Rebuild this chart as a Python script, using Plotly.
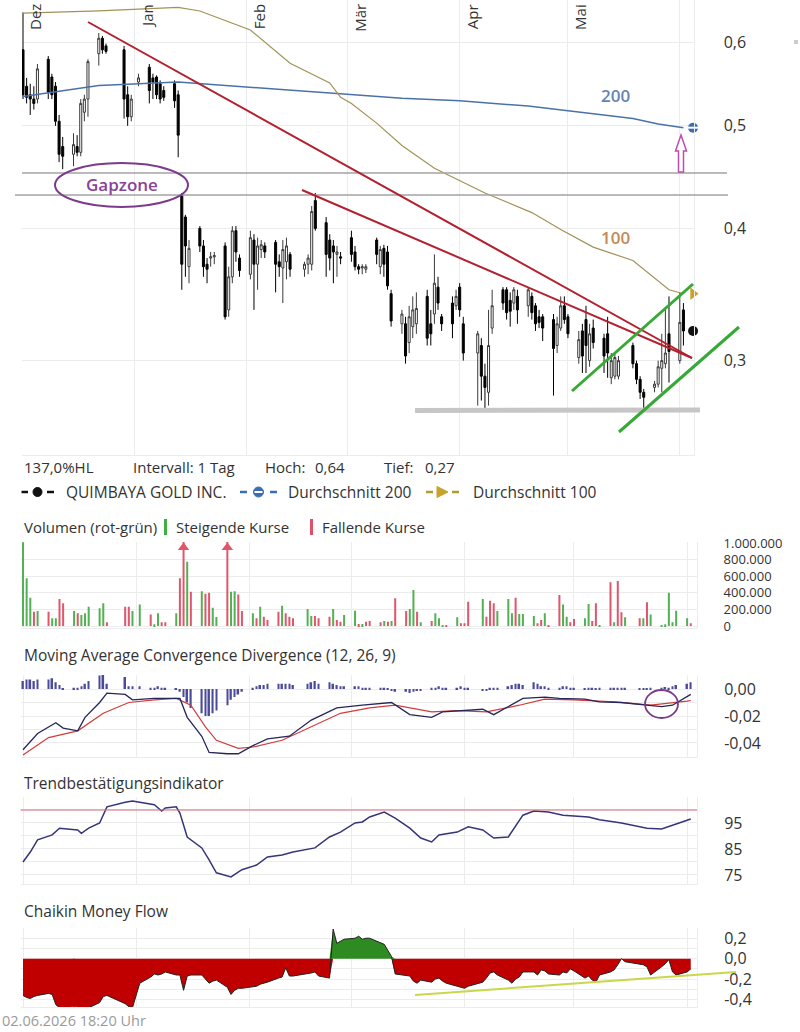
import pandas as pd
import plotly.graph_objects as go

W, H = 800, 1032
FONT = "Open Sans"
GRID = "#ececec"


def X(p):
    return p / W


def Y(p):
    return 1 - p / H


# ---------------- data ----------------
HOLIDAYS = ["2025-12-25", "2025-12-26", "2026-01-01", "2026-02-16", "2026-04-03", "2026-05-18"]
DAYS = pd.bdate_range("2025-12-01", "2026-06-02")
DAYS = DAYS[~DAYS.isin(pd.to_datetime(HOLIDAYS))]

OPEN = [.590, .545, .535, .530, .530, .578, .556, .545, .505, .478, .470, .478, .472, .515, .530, .585, .605, .595, .590, .535, .510,
        .550, .568, .555, .556, .548, .540, .548, .535, .430, .410, .368, .400, .385, .370, .375, .376, .385, .335, .360, .398, .375,
        .362, .390, .370, .382, .385, .388, .372, .367, .372, .378, .366, .370, .370, .425, .405, .390, .385, .378, .376,
        .392, .380, .368, .367, .366, .390, .368, .383, .380, .347, .325, .325, .312, .323, .325, .345, .325, .332, .352, .330, .340, .338,
        .352, .325, .305, .310, .290, .280, .322, .350, .350, .342, .340, .345, .338, .345, .338, .330, .330, .328, .310, .322, .338,
        .330, .302, .320, .328, .300, .322, .315, .318, .289, .290, .290, .310, .298, .288, .280, .283, .285, .295, .298, .318,
        .300, .335]
HIGH = [.640, .555, .548, .545, .572, .582, .560, .550, .512, .488, .492, .490, .530, .535, .578, .612, .608, .598, .595, .545, .535,
        .560, .572, .560, .558, .552, .545, .552, .540, .432, .412, .390, .402, .390, .375, .380, .380, .388, .368, .402, .402, .378,
        .398, .395, .392, .390, .388, .390, .378, .390, .392, .380, .372, .378, .420, .432, .410, .395, .390, .385, .380,
        .398, .385, .370, .370, .370, .392, .385, .386, .385, .350, .335, .330, .338, .345, .348, .350, .335, .378, .360, .332, .345, .350,
        .355, .330, .320, .315, .298, .335, .350, .352, .352, .348, .352, .350, .352, .348, .340, .335, .332, .332, .330, .345, .345,
        .332, .320, .325, .338, .325, .328, .318, .330, .305, .305, .303, .312, .300, .290, .282, .287, .300, .318, .335, .345,
        .348, .340]
LOW = [.530, .525, .512, .518, .525, .530, .530, .500, .462, .455, .458, .468, .468, .505, .510, .570, .585, .585, .508, .500, .505,
       .545, .525, .530, .530, .525, .528, .520, .467, .350, .360, .355, .380, .360, .355, .368, .370, .328, .330, .355, .372, .360,
       .358, .335, .350, .375, .375, .348, .360, .340, .358, .360, .360, .362, .365, .398, .360, .365, .355, .360, .370,
       .372, .365, .362, .362, .363, .370, .362, .360, .350, .323, .318, .298, .305, .315, .318, .310, .310, .325, .335, .320, .315, .335,
       .330, .300, .272, .275, .270, .272, .318, .335, .328, .323, .335, .325, .330, .328, .320, .322, .313, .278, .305, .320, .325,
       .315, .298, .292, .292, .296, .308, .292, .289, .285, .288, .288, .295, .285, .276, .270, .280, .283, .280, .295, .286,
       .298, .310]
CLOSE = [.535, .532, .530, .525, .566, .538, .535, .505, .470, .468, .480, .472, .525, .530, .575, .605, .590, .588, .530, .510, .530,
         .555, .540, .550, .535, .530, .532, .528, .490, .370, .385, .383, .385, .368, .366, .376, .377, .330, .360, .398, .380, .365,
         .392, .370, .385, .386, .380, .370, .368, .382, .385, .366, .370, .375, .415, .400, .378, .375, .380, .380, .375,
         .378, .368, .366, .368, .368, .378, .382, .370, .353, .327, .332, .303, .330, .335, .336, .315, .318, .355, .340, .325, .325, .345,
         .335, .305, .318, .290, .283, .310, .338, .340, .333, .334, .350, .335, .350, .333, .325, .326, .322, .308, .325, .338, .328,
         .318, .314, .303, .310, .318, .312, .303, .305, .300, .302, .300, .298, .288, .280, .277, .285, .296, .300, .305, .306,
         .326, .320]

# volume in thousands and direction (g = steigend, r = fallend)
VOLUME_K = [1010, 575, 340, 173, 180, 173, 92, 92, 325, 273, 180, 153, 133, 153, 233, 213, 273, 44, 233, 233, 180,
            260, 140, 20, 153, 44, 44, 153, 575, 1500, 775, 414, 420, 390, 400, 220, 110, 1400, 414, 420, 380, 180,
            153, 92, 233, 112, 72, 173, 245, 153, 112, 92, 205, 120, 120, 92, 112, 205, 72, 52, 133,
            185, 24, 24, 52, 60, 44, 60, 52, 60, 333, 180, 205, 434, 173, 44, 60, 153, 92, 12, 12, 104, 32,
            32, 293, 325, 112, 305, 273, 180, 325, 153, 341, 145, 145, 120, 32, 72, 153, 10, 373, 260, 112, 44,
            84, 92, 265, 60, 273, 12, 526, 44, 542, 165, 104, 92, 92, 285, 140, 5, 20, 400, 44, 185,
            92, 32]
VOLUME_DIR = list("gggrgrggrrgrgggggrrrg"      # Dez
                  "grggrrgrrgrgrrggrggrr"      # Jan
                  "grgrrrgrrrggrrrgrrg"        # Feb
                  "grgrrrgrgrrggrgrgggrgr"     # Mär
                  "rrgrrrgggrgggrrgrrggr"      # Apr
                  "rggrrgrgrrgrgrgggggg"       # Mai
                  "gr")                        # Jun

MACD_HIST = [.006, .007, .007, .006, .007, .007, .008, .005, .003, .0005, .001, .001, .002, .004, .006, .010, .012, .004, .009, .002, .002,
             .002, .001, .001, .002, .001, .001, .0005, -.002, -.006, -.010, -.014, -.018, -.020, -.020, -.018, -.016, -.012, -.008, -.006, -.004, -.002,
             .001, .002, .003, .003, .004, .004, .004, .004, .004, .003, .004, .005, .006, .004, .005, .004, .003, .002, .002,
             .002, .002, .001, .001, .001, .001, .001, .0005, -.001, -.002, -.002, -.003, -.002, -.001, -.001, .001, .001, .002, .001, .001, .001, .002,
             .001, .001, -.001, -.001, .001, .001, .001, .002, .003, .004, .004, .003, .005, .004, .002, .002, .001, .001, .002, .002, .001,
             .001, .0005, .001, .001, .0005, .001, .001, .001, .001, .001, .001, .0005, .0005, .0005, .001, .001, .0015, .001, .002, .003,
             .004, .005]

CMF = [-.36, -.38, -.39, -.37, -.36, -.34, -.35, -.45, -.48, None, -.47, None, None, None, -.48, -.43, -.37, -.36, -.44, -.47, -.48,
       -.24, -.18, -.15, -.16, -.15, -.13, -.16, -.16, -.31, -.17, -.16, -.16, -.20, -.24, -.22, -.21, -.28, -.35, -.31, -.29, -.29,
       -.28, -.27, -.25, -.24, -.23, -.19, -.18, -.09, -.17, -.17, -.15, -.14, -.13, -.17, -.19, .29, .15, .17, .19,
       .20, .22, .19, .20, .20, .16, .14, .08, .02, -.15, -.16, -.17, -.22, -.24, -.21, -.23, -.20, -.19, -.22, -.24, -.27, -.28,
       -.29, -.27, -.23, -.19, -.14, -.13, -.16, -.21, -.24, -.20, -.18, -.13, -.13, -.16, -.11, -.12, -.15, -.16, -.13, -.14, -.10,
       -.12, -.19, -.17, -.21, -.23, -.16, -.13, -.11, -.06, 0.0, -.03, -.05, -.06, -.08, -.16, -.08, -.05, -.01, -.13, -.16,
       -.13, -.10]

MA200_DATES = ["2025-12-01", "2025-12-22", "2026-01-13", "2026-01-28", "2026-02-24", "2026-03-16", "2026-04-01",
               "2026-04-20", "2026-04-30", "2026-05-11", "2026-05-19", "2026-05-26", "2026-06-02"]
MA200 = [.533, .546, .550, .545, .537, .531, .528, .522, .517, .512, .508, .502, .498]

MA100_DATES = ["2025-12-01", "2025-12-22", "2026-01-13", "2026-01-19", "2026-02-02", "2026-02-06", "2026-02-13",
               "2026-02-24", "2026-02-27", "2026-03-02", "2026-03-09", "2026-03-16", "2026-03-25", "2026-04-08",
               "2026-04-21", "2026-04-29", "2026-05-08", "2026-05-19", "2026-05-26", "2026-05-29", "2026-06-02"]
MA100 = [.639, .642, .647, .642, .616, .600, .573, .549, .532, .525, .503, .479, .456, .432, .414, .399, .384, .373,
         .357, .350, .347]

MACD_DATES = ["2025-12-01", "2025-12-05", "2025-12-10", "2025-12-12", "2025-12-16", "2025-12-18", "2025-12-22",
              "2025-12-24", "2025-12-29", "2025-12-31", "2026-01-06", "2026-01-09", "2026-01-13", "2026-01-15",
              "2026-01-19", "2026-01-21", "2026-01-26", "2026-01-29", "2026-02-02", "2026-02-06", "2026-02-12",
              "2026-02-18", "2026-02-25", "2026-03-04", "2026-03-12", "2026-03-17", "2026-03-23", "2026-03-26",
              "2026-04-01", "2026-04-06", "2026-04-09", "2026-04-13", "2026-04-17", "2026-04-23", "2026-04-27",
              "2026-05-04", "2026-05-08", "2026-05-14", "2026-05-21", "2026-05-25", "2026-05-28", "2026-06-02"]
MACD = [-.045, -.033, -.025, -.029, -.031, -.021, -.010, -.003, -.004, -.008, -.007, -.007, -.007, -.021,
        -.035, -.047, -.048, -.048, -.042, -.037, -.035, -.023, -.014, -.012, -.010, -.019, -.021, -.017,
        -.016, -.015, -.019, -.013, -.007, -.006, -.007, -.0075, -.0095, -.010, -.012, -.013, -.012, -.004]

SIGNAL_DATES = ["2025-12-01", "2025-12-08", "2025-12-16", "2025-12-23", "2025-12-30", "2026-01-06", "2026-01-12",
                "2026-01-16", "2026-01-20", "2026-01-23", "2026-01-29", "2026-02-02", "2026-02-10", "2026-02-18",
                "2026-02-26", "2026-03-06", "2026-03-13", "2026-03-23", "2026-03-30", "2026-04-07", "2026-04-16",
                "2026-04-23", "2026-05-01", "2026-05-12", "2026-05-22", "2026-06-01", "2026-06-02"]
SIGNAL = [-.049, -.036, -.031, -.018, -.010, -.008, -.007, -.012, -.028, -.038, -.044, -.043, -.038, -.028,
          -.018, -.014, -.012, -.017, -.016, -.017, -.012, -.0075, -.008, -.0095, -.012, -.009, -.0085]

TREND_DATES = ["2025-12-01", "2025-12-03", "2025-12-05", "2025-12-09", "2025-12-11", "2025-12-16", "2025-12-17",
               "2025-12-19", "2025-12-22", "2025-12-24", "2025-12-29", "2025-12-31", "2026-01-02", "2026-01-06",
               "2026-01-08", "2026-01-09", "2026-01-12", "2026-01-13", "2026-01-15", "2026-01-19", "2026-01-21",
               "2026-01-23", "2026-01-27", "2026-01-30", "2026-02-03", "2026-02-06", "2026-02-10", "2026-02-13",
               "2026-02-19", "2026-02-23", "2026-02-26", "2026-03-02", "2026-03-04", "2026-03-06", "2026-03-10",
               "2026-03-13", "2026-03-17", "2026-03-20", "2026-03-23", "2026-03-25", "2026-03-30", "2026-04-02",
               "2026-04-06", "2026-04-09", "2026-04-13", "2026-04-17", "2026-04-20", "2026-04-24", "2026-04-28",
               "2026-05-05", "2026-05-08", "2026-05-14", "2026-05-21", "2026-05-25", "2026-05-29", "2026-06-02"]
TREND = [80, 83.8, 88.5, 90.4, 93, 92.3, 91, 93, 95, 101.2, 103, 103.5, 103, 102, 99.6, 100.8, 101.2, 98.8,
         89.6, 85.4, 80.8, 75.8, 74.2, 77, 78.8, 81.9, 82.7, 83.8, 85.4, 89.6, 91.5, 95, 95.4, 97.3, 99.2,
         96.9, 93, 89.2, 87.7, 90.4, 91.5, 93.5, 92.3, 89.2, 89.6, 98, 99.6, 99.2, 98, 97.3, 96.2, 95, 93,
         92.7, 94.6, 96.5]
TREND_REF = 100

MONTH_TICKS = ["2025-12-01", "2026-01-01", "2026-02-01", "2026-03-01", "2026-04-01", "2026-05-01"]
MONTH_LABELS = ["Dez", "Jan", "Feb", "Mär", "Apr", "Mai"]

PRICE_TICKS = [0.3, 0.4, 0.5, 0.6]
VOL_TICKS = [0, 200000, 400000, 600000, 800000, 1000000]
MACD_TICKS = [0.0, -0.02, -0.04]
TREND_TICKS = [75, 85, 95]
CMF_TICKS = [0.2, 0.0, -0.2, -0.4]
VOL_TOP = 1012000


def de(v, nd):
    return f"{v:.{nd}f}".replace(".", ",")


def de_int(v):
    return f"{int(v):,}".replace(",", ".")


# ---------------- figure ----------------
fig = go.Figure()
DAY_MS = 86400000

# main price chart
fig.add_trace(go.Candlestick(
    x=DAYS, open=OPEN, high=HIGH, low=LOW, close=CLOSE, whiskerwidth=0,
    increasing=dict(line=dict(color="#3a3a3a", width=1), fillcolor="#ffffff"),
    decreasing=dict(line=dict(color="#000000", width=1), fillcolor="#000000"),
    xaxis="x", yaxis="y", hoverinfo="skip", showlegend=False))
fig.add_trace(go.Scatter(x=pd.to_datetime(MA200_DATES), y=MA200, mode="lines",
                         line=dict(color="#4a72a8", width=1.5), xaxis="x", yaxis="y", hoverinfo="skip"))
fig.add_trace(go.Scatter(x=pd.to_datetime(MA100_DATES), y=MA100, mode="lines",
                         line=dict(color="#a39257", width=1.2), xaxis="x", yaxis="y", hoverinfo="skip"))

left_mark = DAYS[0] - pd.Timedelta(hours=66)
right_mark = DAYS[-1] + pd.Timedelta(hours=64)
fig.add_trace(go.Scatter(x=[left_mark, right_mark], y=[CLOSE[0], CLOSE[-1]], mode="markers",
                         marker=dict(color="#111", size=10), cliponaxis=False, xaxis="x", yaxis="y", hoverinfo="skip"))
fig.add_trace(go.Scatter(x=[left_mark, right_mark], y=[MA200[0], MA200[-1]], mode="markers",
                         marker=dict(color="#3b6db3", size=10), cliponaxis=False, xaxis="x", yaxis="y", hoverinfo="skip"))
fig.add_trace(go.Scatter(x=[left_mark, right_mark], y=[MA200[0], MA200[-1]], mode="markers",
                         marker=dict(symbol="line-ew", size=9, line=dict(color="white", width=2)),
                         cliponaxis=False, xaxis="x", yaxis="y", hoverinfo="skip"))
fig.add_trace(go.Scatter(x=[left_mark, right_mark], y=[MA100[0], MA100[-1]], mode="markers",
                         marker=dict(symbol="triangle-right", color="#c9a227", size=11), cliponaxis=False,
                         xaxis="x", yaxis="y", hoverinfo="skip"))

# volume
vol = [v * 1000 for v in VOLUME_K]
vcol = ["#52b152" if d == "g" else "#e0566c" for d in VOLUME_DIR]
fig.add_trace(go.Bar(x=DAYS, y=vol, marker=dict(color=vcol, line=dict(width=0)), width=0.55 * DAY_MS,
                     xaxis="x2", yaxis="y2", hoverinfo="skip"))
clip_x = [d for d, v in zip(DAYS, vol) if v > VOL_TOP]
clip_c = [c for c, v in zip(vcol, vol) if v > VOL_TOP]
fig.add_trace(go.Scatter(x=clip_x, y=[0.945e6] * len(clip_x), mode="markers",
                         marker=dict(symbol="triangle-up", size=10, color=clip_c), cliponaxis=False,
                         xaxis="x2", yaxis="y2", hoverinfo="skip"))

# MACD
fig.add_trace(go.Bar(x=DAYS, y=MACD_HIST, marker=dict(color="#4a4a9a", line=dict(width=0)), width=0.45 * DAY_MS,
                     xaxis="x3", yaxis="y3", hoverinfo="skip"))
fig.add_trace(go.Scatter(x=pd.to_datetime(SIGNAL_DATES), y=SIGNAL, mode="lines", line=dict(color="#d23c3c", width=1.2),
                         xaxis="x3", yaxis="y3", hoverinfo="skip"))
fig.add_trace(go.Scatter(x=pd.to_datetime(MACD_DATES), y=MACD, mode="lines", line=dict(color="#26265a", width=1.3),
                         xaxis="x3", yaxis="y3", hoverinfo="skip"))

# Trend
fig.add_trace(go.Scatter(x=pd.to_datetime(TREND_DATES), y=TREND, mode="lines", line=dict(color="#35357a", width=1.5),
                         xaxis="x4", yaxis="y4", hoverinfo="skip"))

# Chaikin
neg = [None if v is None else min(v, 0) for v in CMF]
pos = [None if v is None else max(v, 0) for v in CMF]
fig.add_trace(go.Scatter(x=DAYS, y=neg, mode="lines", fill="tozeroy", fillcolor="#c00000",
                         line=dict(width=0, color="#c00000"), xaxis="x5", yaxis="y5", hoverinfo="skip"))
fig.add_trace(go.Scatter(x=DAYS, y=pos, mode="lines", fill="tozeroy", fillcolor="#2e8b22",
                         line=dict(width=0, color="#2e8b22"), xaxis="x5", yaxis="y5", hoverinfo="skip"))
iso_x, iso_y = [], []
for i, v in enumerate(CMF):
    if v is None:
        continue
    prev_none = i == 0 or CMF[i - 1] is None
    next_none = i == len(CMF) - 1 or CMF[i + 1] is None
    if prev_none and next_none:
        iso_x += [DAYS[i], DAYS[i], None]
        iso_y += [0, v, None]
fig.add_trace(go.Scatter(x=iso_x, y=iso_y, mode="lines", line=dict(color="#c00000", width=2),
                         xaxis="x5", yaxis="y5", hoverinfo="skip"))
fig.add_trace(go.Scatter(x=DAYS, y=CMF, mode="lines", line=dict(color="#222", width=1),
                         xaxis="x5", yaxis="y5", hoverinfo="skip"))

# ---------------- axes ----------------
main_dom = [X(22), X(693.5)]
low_dom = [X(20.5), X(697)]
main_rng = ["2025-11-30 17:21", "2026-06-04 19:00"]
low_rng = ["2025-11-30 07:33", "2026-06-03 17:02"]


def xax(dom, rng, anchor):
    return dict(domain=dom, range=rng, type="date", anchor=anchor, showgrid=True, gridcolor=GRID, gridwidth=1,
                dtick="M1", tick0="2025-12-01", showticklabels=False, ticks="", zeroline=False,
                showline=True, linecolor=GRID, rangeslider=dict(visible=False), fixedrange=True,
                automargin=False)


def yax(dom, rng, anchor, tv, tt, size=16, standoff=23, minor=None, typ="linear"):
    d = dict(domain=dom, range=rng, type=typ, anchor=anchor, side="right", tickvals=tv, ticktext=tt,
             showgrid=True, gridcolor=GRID, ticks="", zeroline=False, showline=True, linecolor=GRID,
             tickfont=dict(size=size, color="#333", family=FONT), ticklabelstandoff=standoff, fixedrange=True,
             automargin=False)
    if minor is not None:
        d["minor"] = dict(tickvals=minor, showgrid=True, gridcolor=GRID, ticks="")
    return d


fig.update_layout(
    xaxis=xax(main_dom, main_rng, "y"),
    yaxis=yax([Y(455), 1], [-0.6121, -0.1821], "x", PRICE_TICKS, [de(v, 1) for v in PRICE_TICKS],
              size=16, standoff=26, typ="log"),
    xaxis2=xax(low_dom, low_rng, "y2"),
    yaxis2=yax([Y(628), Y(542)], [-24000, VOL_TOP], "x2", VOL_TICKS, [de_int(v) for v in VOL_TICKS], size=13),
    xaxis3=xax(low_dom, low_rng, "y3"),
    yaxis3=yax([Y(757), Y(675)], [-0.0504, 0.0104], "x3", MACD_TICKS, [de(v, 2) for v in MACD_TICKS],
               minor=[-0.05, -0.04, -0.03, -0.02, -0.01, 0.0, 0.01]),
    xaxis4=xax(low_dom, low_rng, "y4"),
    yaxis4=yax([Y(884), Y(797)], [71.5, 105], "x4", TREND_TICKS, [str(v) for v in TREND_TICKS],
               minor=[70, 75, 80, 85, 90, 95, 100, 105]),
    xaxis5=xax(low_dom, low_rng, "y5"),
    yaxis5=yax([Y(1007), Y(928)], [-0.473, 0.30], "x5", CMF_TICKS, [de(v, 1) for v in CMF_TICKS],
               minor=[-0.4, -0.3, -0.2, -0.1, 0.0, 0.1, 0.2]),
)

# ---------------- annotations & drawings ----------------
ann = []
shapes = []


def txt(x, y, s, size=15.5, color="#333", anchor="left", weight=None, **kw):
    f = dict(size=size, color=color, family=FONT)
    if weight:
        f["weight"] = weight
    ann.append(dict(x=X(x), y=Y(y), xref="paper", yref="paper", text=s, showarrow=False, xanchor=anchor,
                    yanchor="middle", font=f, **kw))


def line(x0, y0, x1, y1, color, width):
    shapes.append(dict(type="line", xref="paper", yref="paper", x0=X(x0), y0=Y(y0), x1=X(x1), y1=Y(y1),
                       line=dict(color=color, width=width)))


def path(points, line_color, fill, width=1.5):
    p = "M " + " L ".join(f"{X(a):.5f},{Y(b):.5f}" for a, b in points) + " Z"
    shapes.append(dict(type="path", xref="paper", yref="paper", path=p, fillcolor=fill,
                       line=dict(color=line_color, width=width)))


def ellipse(x0, y0, x1, y1, color, width=2, fill=None):
    shapes.append(dict(type="circle", xref="paper", yref="paper", x0=X(x0), x1=X(x1), y0=Y(y1), y1=Y(y0),
                       line=dict(color=color, width=width), fillcolor=fill or "rgba(0,0,0,0)"))


# month labels at top of price chart
for d, lab in zip(MONTH_TICKS, MONTH_LABELS):
    ann.append(dict(x=d, xref="x", y=Y(2), yref="paper", text=lab, textangle=-90, showarrow=False,
                    xanchor="center", yanchor="top", xshift=12, font=dict(size=15, color="#333", family=FONT)))

# hand-drawn analysis lines
line(22, 173, 727, 173, "#a3a3a3", 1.5)
line(15, 195, 728, 195, "#a3a3a3", 1.5)
line(415, 410.5, 700, 410, "#c6c6c6", 5)
line(88, 22, 692, 358, "#b3202e", 2)
line(302, 190, 692, 358, "#b3202e", 2)
line(572, 391, 693, 284, "#36a936", 3)
line(619, 432, 739, 327, "#36a936", 3)
ellipse(55, 163, 188, 207, "#7b3a8c", 2, "rgba(255,255,255,0)")
txt(121.5, 185, "Gapzone", size=17, color="#8a4299", anchor="center", weight=600)
txt(615, 96, "200", size=17, color="#6684b0", anchor="center", weight=600)
txt(615, 238, "100", size=17, color="#c48a55", anchor="center", weight=600)
path([(681, 135), (686.5, 151), (683.5, 151), (683.5, 172), (678.5, 172), (678.5, 151), (675.5, 151)],
     "#c04cae", "#ffffff", 1.5)
ellipse(645, 690, 678, 718, "#7b3a8c", 1.8)
line(415, 995, 736, 972, "#c8d84a", 2)
shapes.append(dict(type="rect", xref="paper", yref="paper", x0=X(794), x1=X(798), y0=Y(44), y1=Y(40),
                   fillcolor="#cccccc", line=dict(width=0)))

# trend reference line
shapes.append(dict(type="line", xref="x4 domain", yref="y4", x0=0, x1=1, y0=TREND_REF, y1=TREND_REF,
                   line=dict(color="#d36a7a", width=1.2)))

# info line
hi, lo = max(HIGH), min(LOW)
txt(21.5, 467, f"{de((hi / lo - 1) * 100, 1)}%HL", size=15)
txt(131, 467, "Intervall: 1 Tag", size=15)
txt(263, 467, "Hoch:", size=15)
txt(313, 467, de(hi, 2), size=15)
txt(382, 467, "Tief:", size=15)
txt(423, 467, de(lo, 2), size=15)

# legend row
line(21.5, 492, 28, 492, "#111", 2.5)
line(47, 492, 54, 492, "#111", 2.5)
ellipse(33, 487.5, 42, 496.5, "#111", 1, "#111")
txt(64, 492, "QUIMBAYA GOLD INC.")
line(240, 492, 247, 492, "#3b6db3", 2.5)
line(270, 492, 277, 492, "#3b6db3", 2.5)
ellipse(253.5, 487, 263.5, 497, "#3b6db3", 1, "#3b6db3")
line(254.5, 492, 262.5, 492, "#ffffff", 2)
txt(286, 492, "Durchschnitt 200")
line(426, 492, 433, 492, "#b39a2e", 2.5)
line(452, 492, 459, 492, "#b39a2e", 2.5)
path([(437, 486.5), (448, 492), (437, 497.5)], "#c9a227", "#c9a227", 1)
txt(471, 492, "Durchschnitt 100")

# volume title
txt(21.5, 527, "Volumen (rot-grün)", size=15)
shapes.append(dict(type="rect", xref="paper", yref="paper", x0=X(164), x1=X(167), y0=Y(535), y1=Y(519),
                   fillcolor="#3cb043", line=dict(width=0)))
txt(174, 527, "Steigende Kurse", size=15)
shapes.append(dict(type="rect", xref="paper", yref="paper", x0=X(310), x1=X(313), y0=Y(535), y1=Y(519),
                   fillcolor="#e0506a", line=dict(width=0)))
txt(320, 527, "Fallende Kurse", size=15)

txt(21.5, 655, "Moving Average Convergence Divergence (12, 26, 9)")
txt(21.5, 783, "Trendbestätigungsindikator")
txt(21.5, 911, "Chaikin Money Flow")
txt(1, 1020.5, "02.06.2026 18:20 Uhr", size=14.5, color="#9a9a9a", borderpad=0)

fig.update_layout(
    width=W, height=H, margin=dict(l=0, r=0, t=0, b=0, pad=0, autoexpand=False),
    paper_bgcolor="white", plot_bgcolor="white",
    separators=",.", showlegend=False, boxgap=0.2,
    font=dict(family=FONT, color="#333", size=15),
    annotations=ann, shapes=shapes,
)

fig.write_html("out.html")
